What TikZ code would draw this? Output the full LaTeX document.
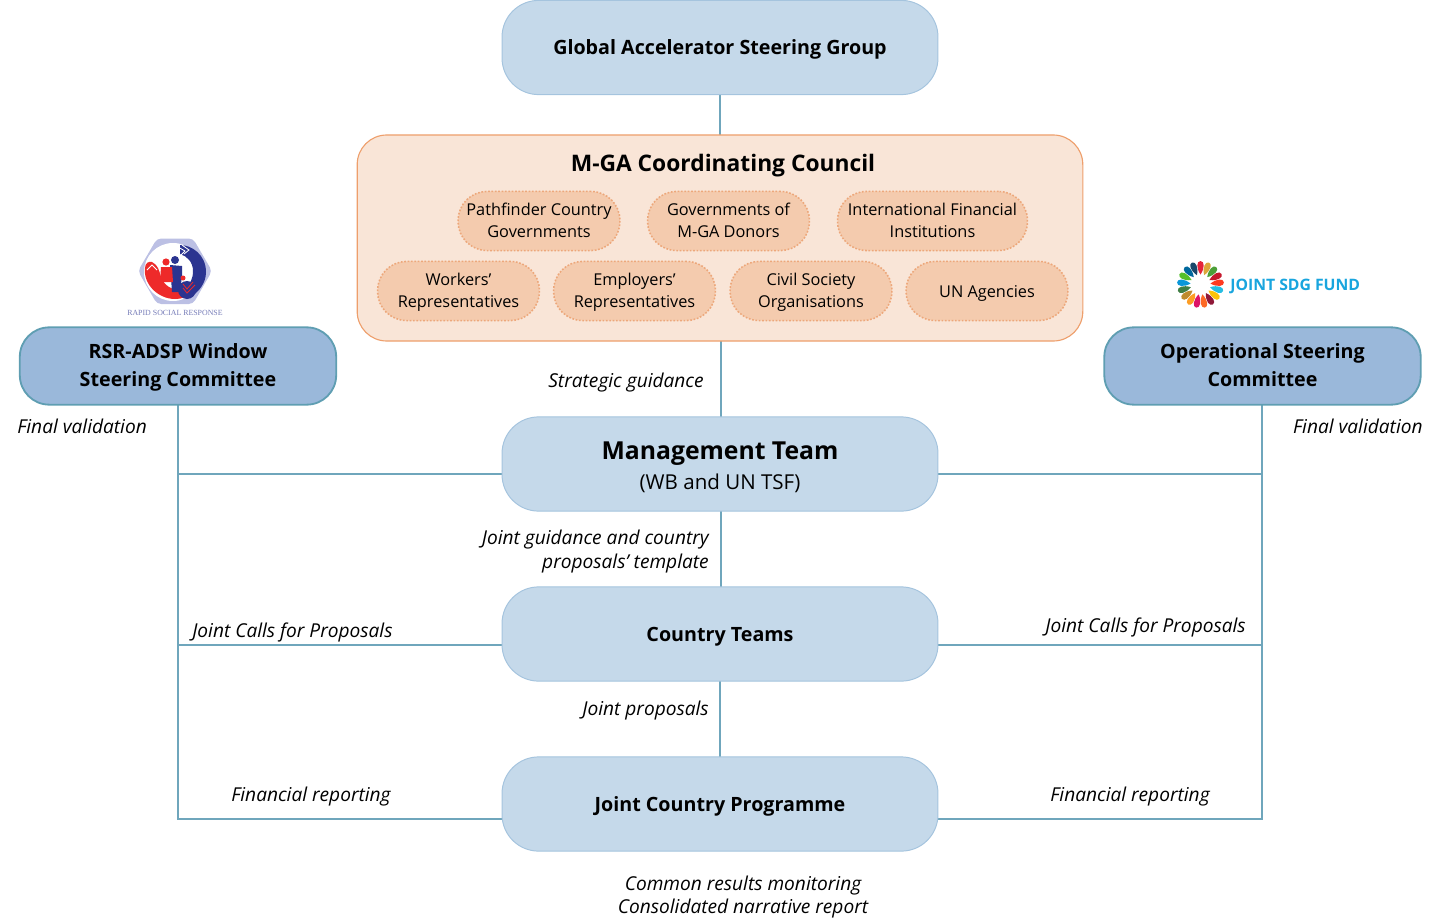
\documentclass[tikz,border=0pt]{standalone}
\usepackage{fontspec}
\setmainfont{Open Sans}
\newfontfamily\logoserif{Liberation Serif}
\definecolor{boxfill}{HTML}{C5D9EA}
\definecolor{boxline}{HTML}{A5C4DE}
\definecolor{sidefill}{HTML}{9AB8DA}
\definecolor{sideline}{HTML}{5F9EB2}
\definecolor{linkline}{HTML}{6FA6BC}
\definecolor{councilfill}{HTML}{F9E5D7}
\definecolor{councilline}{HTML}{EE9F6C}
\definecolor{pillfill}{HTML}{F4CBAE}
\definecolor{pillline}{HTML}{EDA77A}
\definecolor{rsrhex}{HTML}{BCC0E4}
\definecolor{rsrblue}{HTML}{2B3490}
\definecolor{rsrred}{HTML}{EE2A2A}
\definecolor{sdgblue}{HTML}{19A5DE}
\tikzset{
  mainbox/.style={draw=boxline, fill=boxfill, line width=0.7pt, rounded corners=26pt, minimum width=310pt, minimum height=67pt, inner sep=0pt, align=center},
  sidebox/.style={draw=sideline, fill=sidefill, line width=1.3pt, rounded corners=21pt, minimum width=225pt, minimum height=55pt, inner sep=0pt, align=center, text height=28.5pt, text depth=0pt, font=\fontsize{14}{19.7}\selectfont\bfseries},
  pill/.style={draw=pillline, fill=pillfill, line width=1.1pt, dash pattern=on 1.2pt off 1.2pt, rounded corners=20.5pt, minimum width=115pt, minimum height=42pt, inner sep=0pt, align=center, text height=23.2pt, text depth=0pt, font=\fontsize{11.6}{15.2}\selectfont},
  link/.style={draw=linkline, line width=1.3pt},
  note/.style={inner sep=0pt, text height=10.2pt, text depth=0pt, font=\fontsize{13.6}{16.6}\selectfont\itshape},
  boxtitle/.style={text height=10pt, text depth=0pt, font=\fontsize{14}{20}\selectfont\bfseries},
}
\begin{document}
\begin{tikzpicture}[x=0.025cm, y=-0.025cm]
  \useasboundingbox (0,0) rectangle (1440,920);

  % links first, the boxes sit on top
  \coordinate (globalS) at (720,90);
  \coordinate (councilN) at (720,140);
  \coordinate (councilS) at (721,335);
  \coordinate (mgmtN) at (721,422);
  \coordinate (mgmtS) at (721,506);
  \coordinate (ctyN) at (721,592);
  \coordinate (ctyS) at (720,676);
  \coordinate (jcpN) at (720,762);
  \coordinate (mgmtL) at (506,474);
  \coordinate (mgmtR) at (934,474);
  \coordinate (ctyL) at (506,645);
  \coordinate (ctyR) at (934,645);
  \coordinate (jcpL) at (506,819);
  \coordinate (jcpR) at (934,819);
  \coordinate (rsrS) at (178,400);
  \coordinate (opsS) at (1262,400);

  \draw[link] (globalS) -- (councilN);
  \draw[link] (councilS) -- (mgmtN);
  \draw[link] (mgmtS) -- (ctyN);
  \draw[link] (ctyS) -- (jcpN);
  \draw[link] (rsrS) -- (rsrS |- jcpL) -- (jcpL);
  \draw[link] (opsS) -- (opsS |- jcpR) -- (jcpR);
  \draw[link] (mgmtL) -- (mgmtL -| rsrS);
  \draw[link] (ctyL) -- (ctyL -| rsrS);
  \draw[link] (mgmtR) -- (mgmtR -| opsS);
  \draw[link] (ctyR) -- (ctyR -| opsS);

  % main column
  \node[mainbox, boxtitle] (global) at (720,47.5) {Global Accelerator Steering Group};
  \node[mainbox, text height=38pt] (mgmt) at (720,464) {{\fontsize{17.6}{24}\selectfont\bfseries Management Team}\\[5pt]{\fontsize{14.6}{18}\selectfont (WB and UN TSF)}};
  \node[mainbox, boxtitle] (cty) at (720,634) {Country Teams};
  \node[mainbox, boxtitle] (jcp) at (720,804) {Joint Country Programme};

  % council and its members
  \node[draw=councilline, fill=councilfill, line width=0.8pt, rounded corners=21pt, minimum width=516pt, minimum height=146.5pt, inner sep=0pt] (council) at (720,238) {};
  \node[inner sep=0pt, text height=12pt, text depth=0pt, font=\fontsize{16.2}{20}\selectfont\bfseries] (councilT) at (723,163) {M-GA Coordinating Council};
  \node[pill] (pathfinder) at (539,221) {Pathfinder Country\\Governments};
  \node[pill] (donors) at (728.5,221) {Governments of\\M-GA Donors};
  \node[pill, minimum width=135pt] (ifi) at (932.5,221) {International Financial\\Institutions};
  \node[pill] (workers) at (458.5,291) {Workers’\\Representatives};
  \node[pill] (employers) at (634.5,291) {Employers’\\Representatives};
  \node[pill] (civil) at (811,291) {Civil Society\\Organisations};
  \node[pill, text height=9pt] (agencies) at (987,291) {UN Agencies};

  % side boxes
  \node[sidebox] (rsr) at (178,366) {RSR-ADSP Window\\Steering Committee};
  \node[sidebox] (ops) at (1262.5,366) {Operational Steering\\Committee};

  % labels on the links
  \node[note, anchor=east] (lblStrategic) at (704,380) {Strategic guidance};
  \node[note, anchor=west] (lblValL) at (17,426.5) {Final validation};
  \node[note, anchor=east] (lblValR) at (1423,426.5) {Final validation};
  \node[note, anchor=east, align=right, text height=25.9pt] (lblGuide) at (709,550) {Joint guidance and country\\proposals’ template};
  \node[note, anchor=west] (lblCallL) at (192,630) {Joint Calls for Proposals};
  \node[note, anchor=east] (lblCallR) at (1246,625) {Joint Calls for Proposals};
  \node[note, anchor=east] (lblProp) at (709,708.5) {Joint proposals};
  \node[note, anchor=west] (lblFinL) at (231,794.5) {Financial reporting};
  \node[note, anchor=west] (lblFinR) at (1050,794.5) {Financial reporting};
  \node[note, align=center, text height=25.9pt] (lblMon) at (743,895.5) {Common results monitoring\\Consolidated narrative report};

  % RSR logo
  \fill[rsrhex, rounded corners=3pt] (138,271) -- (157,238.5) -- (193,238.5) -- (212,271) -- (193,304) -- (157,304) -- cycle;
  \fill[white] (173,272) circle (29);
  \fill[rsrblue] (180,245) .. controls (192,245) and (206,255) .. (206,272) .. controls (206,284) and (198,292) .. (192,296) -- (186,288) .. controls (190,284) and (193,279) .. (193,271) .. controls (193,262) and (187,256) .. (180,254) -- cycle;
  \fill[rsrred] (145,268) .. controls (143,284) and (158,299) .. (175,299) .. controls (182,299) and (186,297) .. (189,294) -- (186,288) .. controls (176,292) and (165,288) .. (161,277) .. controls (159,270) and (158,265) .. (152,262) .. controls (149,261) and (145,263) .. (145,268) -- cycle;
  \fill[rsrblue] (187,290) circle (9);
  \draw[white, line width=0.6pt] (147,270) -- (152,265) -- (157,270);
  \draw[white, line width=0.6pt] (178,247) -- (185,251) -- (180,256);
  \draw[white, line width=0.6pt] (182,245) -- (189,250) -- (184,254);
  \draw[rsrred, line width=0.6pt] (183,288) -- (187,293) -- (195,285);
  \draw[rsrred, line width=0.6pt] (183,284) -- (187,289) -- (193,282);
  \fill[rsrblue] (175,260) circle (4);
  \fill[rsrblue] (170,265) -- (182,266) -- (182,276) -- (180,292) -- (172,292) -- (171,278) -- cycle;
  \fill[rsrred] (166,262) circle (3.6);
  \fill[rsrred] (161,267) -- (172,267) -- (173,282) -- (160,282) -- cycle;
  \fill[rsrred] (183,278) circle (2.5);
  \node[inner sep=0pt, text=rsrblue!65!white, font=\fontsize{5.6}{6}\selectfont\logoserif] (rsrLogoT) at (175,312.5) {RAPID SOCIAL RESPONSE};

  % SDG logo
  \foreach \petalcolor [count=\i from 0] in {E5243B, DDA63A, 4C9F38, C5192D, FF3A21, 26BDE2, FCC30B, 8F1838, FD6925, DD1367, FD9D24, BF8B2E, 3F7E44, 0A97D9, 56C02B, 00689D, 19486A}{
    \definecolor{petalc}{HTML}{\petalcolor}
    \fill[petalc, rotate around={-\i*360/17:(1200.5,284.5)}] (1200.5,274.5) .. controls (1196,268) and (1196.5,261) .. (1200.5,261) .. controls (1204.5,261) and (1205,268) .. (1200.5,274.5) -- cycle;
  }
  \node[anchor=west, inner sep=0pt, text=sdgblue, font=\fontsize{11.2}{14}\selectfont\bfseries] (sdgLogoT) at (1230,286) {JOINT SDG FUND};
\end{tikzpicture}
\end{document}
